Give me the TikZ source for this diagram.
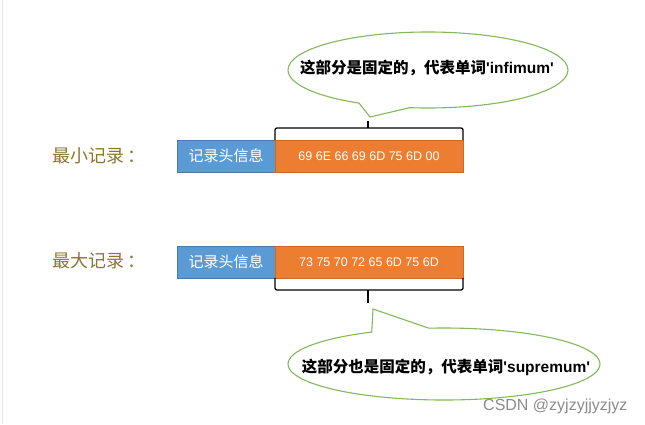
\documentclass[tikz,border=0pt]{standalone}
\usepackage{fontspec}
\setmainfont{Liberation Sans}
\newfontfamily\cjk{Noto Sans CJK SC}
\usetikzlibrary{shapes.callouts}
\definecolor{recblue}{RGB}{91,155,213}
\definecolor{recorange}{RGB}{237,125,49}
\definecolor{labelbrown}{RGB}{140,118,50}
\definecolor{calloutgreen}{RGB}{130,185,90}
\definecolor{wmgray}{RGB}{140,140,140}
\begin{document}
\begin{tikzpicture}[x=1pt,y=-1pt,
  hdr/.style={fill=recblue, draw=recblue!80!black, line width=0.5pt, minimum width=98pt, minimum height=32pt, inner sep=0pt, outer sep=0pt, text=white, font=\cjk\fontsize{15}{15}\selectfont},
  payload/.style={fill=recorange, draw=recorange!85!black, line width=0.5pt, minimum width=188pt, minimum height=32pt, inner sep=0pt, outer sep=0pt, text=white, font=\fontsize{12.5}{12.5}\selectfont},
  rowlabel/.style={anchor=west, inner sep=0pt, text=labelbrown, font=\cjk\fontsize{18}{18}\selectfont},
  brace/.style={draw=black, line width=1.3pt, rounded corners=2pt},
  bubble/.style={ellipse callout, draw=calloutgreen, line width=1.1pt, fill=white, inner sep=0pt, callout pointer arc=22},
  bubbletext/.style={inner sep=0pt, font=\bfseries\fontsize{15.5}{15.5}\selectfont},
]
\useasboundingbox (0,0) rectangle (645,424);
\fill[white] (0,0) rectangle (645,424);
\draw[black!10, line width=1pt] (2,0) -- (2,424);

% row 1
\node[rowlabel] (l1) at (52,156) {最小记录\hspace{3pt}：};
\node[hdr, anchor=north west] (h1) at (177,140) {记录头信息};
\node[payload, anchor=west] (o1) at (h1.east) {69 6E 66 69 6D 75 6D 00};

% row 2
\node[rowlabel] (l2) at (52,261) {最大记录\hspace{3pt}：};
\node[hdr, anchor=north west] (h2) at (177,246) {记录头信息};
\node[payload, anchor=west] (o2) at (h2.east) {73 75 70 72 65 6D 75 6D};

% braces
\coordinate (b1m) at (368,128);
\coordinate (b1t) at (368,121);
\draw[brace] (o1.north west) |- (b1m) -| (o1.north east);
\draw[brace] (b1m) -- (b1t);

\coordinate (b2m) at (368,290);
\coordinate (b2t) at (368,303);
\draw[brace] (o2.south west) |- (b2m) -| (o2.south east);
\draw[brace] (b2m) -- (b2t);

% callouts
\coordinate (p1) at (370,117);
\node[bubble, minimum width=280pt, minimum height=76pt, callout absolute pointer={(p1)}] (c1) at (428,70) {};
\node[bubbletext] (t1) at (427,68) {{\cjk 这部分是固定的，代表单词}\textquotesingle infimum\textquotesingle};

\coordinate (p2) at (373,309);
\node[bubble, minimum width=312pt, minimum height=72pt, callout absolute pointer={(p2)}] (c2) at (444,364) {};
\node[bubbletext] (t2) at (446,367) {{\cjk 这部分也是固定的，代表单词}\textquotesingle supremum\textquotesingle};

% watermark
\node[anchor=west, inner sep=0pt, text=wmgray, font=\fontsize{16}{16}\selectfont] (wm) at (483,406) {CSDN @zyjzyjjyzjyz};
\end{tikzpicture}
\end{document}
